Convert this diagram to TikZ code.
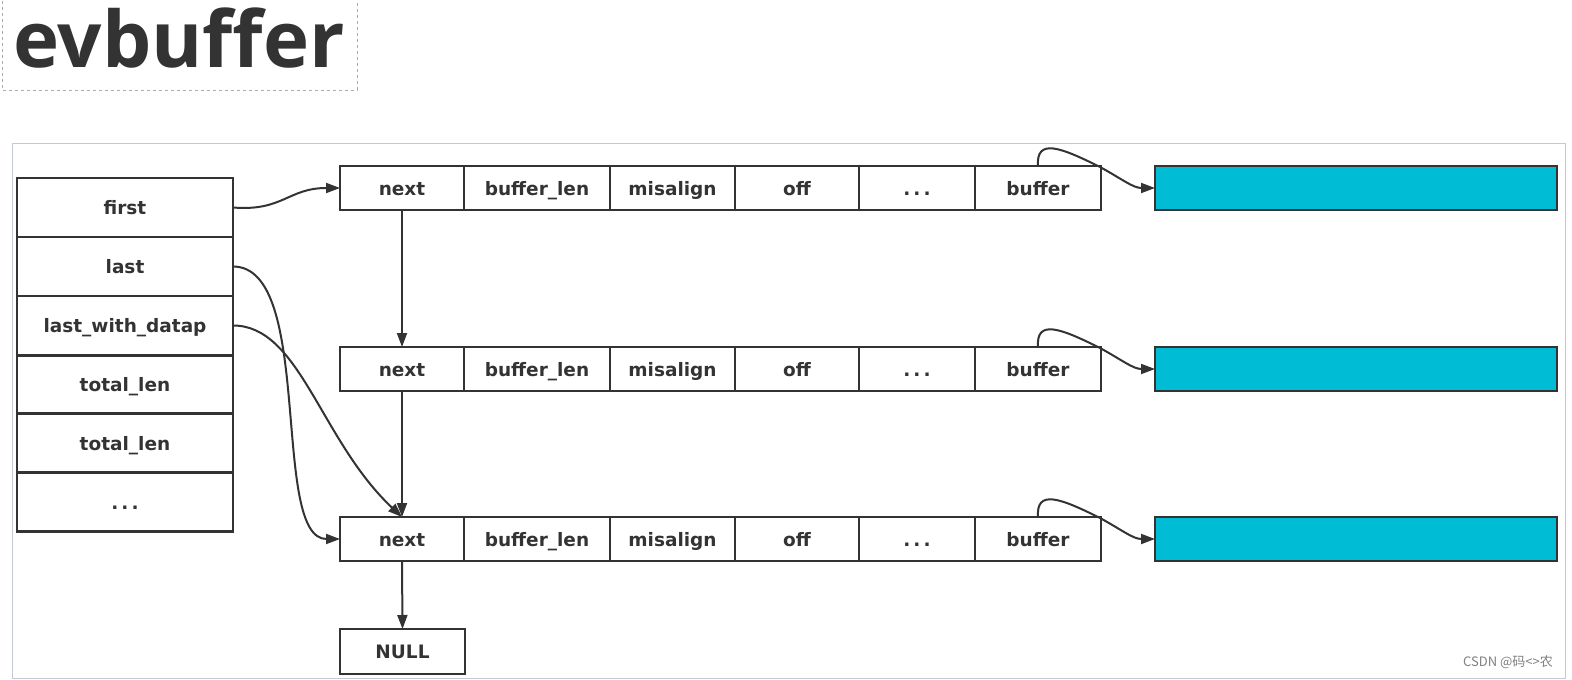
\documentclass[tikz,border=0pt]{standalone}
\usepackage{fontspec}
\setmainfont{DejaVu Sans}
\newfontfamily\titlefont{Open Sans}
\newfontfamily\cjkfont{Noto Sans CJK SC}
\usetikzlibrary{arrows.meta,calc}
\definecolor{ink}{HTML}{333333}
\definecolor{cyanfill}{RGB}{0,188,212}
\definecolor{framec}{HTML}{C5C9D2}
\definecolor{dashc}{HTML}{AAAAAA}
\newcommand{\celldots}{.\,.\,.}
\begin{document}
\begin{tikzpicture}[x=1pt,y=-1pt,
  cell/.style={draw=ink, line width=2.4pt, inner sep=0pt, outer sep=0pt, minimum height=44pt,
    text height=15pt, text depth=1pt,
    font=\fontsize{18.5}{20}\selectfont\bfseries, text=ink},
  field/.style={cell, minimum width=216pt, minimum height=59pt},
  bluebox/.style={draw=ink, line width=2.8pt, fill=cyanfill, inner sep=0pt, outer sep=0pt,
    minimum width=402pt, minimum height=44pt},
  conn/.style={draw=ink, line width=2pt, -{Triangle[length=14pt,width=10pt]}}
]
\useasboundingbox (0,0) rectangle (1572,680);
% title
\draw[dashc, dashed, line width=0.8pt] (2,-5) rectangle (357,90);
\node[anchor=base west, inner sep=0pt, text=ink,
  font=\titlefont\bfseries\fontsize{78}{88}\selectfont] (title) at (13,67) {evbuffer};
% frame
\draw[framec, line width=1pt] (12,143) rectangle (1565,678);
% struct
\node[field] (first) at (125,207.5) {first};
\node[field] (last) at (125,266.5) {last};
\node[field] (lwd) at (125,325.5) {last\_with\_datap};
\node[field, minimum height=58pt] (tl1) at (125,384.5) {total\_len};
\node[field] (tl2) at (125,443) {total\_len};
\node[field] (dots) at (125,502) {\celldots};
% chain rows
\foreach \r/\y in {1/188,2/369,3/539}{
  \foreach \i/\cx/\w/\t in {1/402/124/next,2/537/146/buffer\_len,3/672.5/125/misalign,
      4/797/124/off,5/917/116/\celldots,6/1038/126/buffer}{
    \node[cell, minimum width=\w pt] (c\r\i) at (\cx,\y) {\t};
  }
  \node[bluebox] (b\r) at (1356,\y) {};
  \coordinate (m\r) at ($(c\r6.north)+(62,1)$);
  \draw[conn] (c\r6.north) .. controls +(-2,-28) and +(-40,-20) .. (m\r)
     .. controls +(22,12) and +(-22,0) .. (b\r.west);
}
\node[cell, minimum width=125pt, minimum height=45pt] (null) at (402.5,651.5) {NULL};
% connectors
\draw[conn] (first.east) .. controls +(50,4) and +(-52,0) .. (c11.west);
\draw[conn] (last.east) .. controls +(82,0) and +(-70,0) .. (c31.west);
\draw[conn] (lwd.east) .. controls +(67,0) and +(-82,-77) .. (c31.north);
\draw[conn] (c11.south) -- (c21.north);
\draw[conn] (c21.south) -- (c31.north);
\draw[conn] (c31.south) -- (null.north);
% footer
\node[anchor=east, inner sep=0pt, text=gray,
  font=\cjkfont\fontsize{13}{14}\selectfont] (csdn) at (1553,662) {CSDN @码<>农};
\end{tikzpicture}
\end{document}
